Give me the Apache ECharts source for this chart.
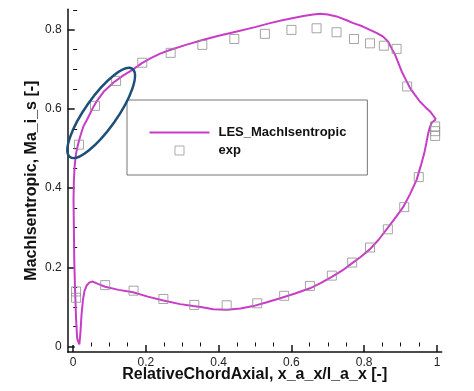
<!DOCTYPE html>
<html><head><meta charset="utf-8">
<script src="https://cdn.jsdelivr.net/npm/echarts@6/dist/echarts.min.js"></script>
<style>html,body{margin:0;padding:0;background:#fff}#c{width:474px;height:391px}</style>
</head><body><div id="c"></div>
<script>
// LES isentropic Mach number (closed loop: TE -> pressure side -> LE -> suction side -> TE)
const lesX = [0.997,0.986,0.980,0.976,0.971,0.965,0.955,0.944,0.926,0.907,0.888,0.871,0.839,0.816,0.790,0.766,0.740,0.711,0.680,0.651,0.610,0.569,0.530,0.495,0.460,0.422,0.385,0.355,0.330,0.294,0.248,0.205,0.165,0.125,0.088,0.068,0.054,0.045,0.037,0.031,0.027,0.023,0.020,0.017,0.014,0.011,0.008,0.005,0.003,0.002,0.001,0.002,0.004,0.008,0.012,0.019,0.028,0.038,0.056,0.065,0.085,0.111,0.138,0.163,0.189,0.212,0.239,0.266,0.310,0.358,0.400,0.450,0.500,0.541,0.578,0.633,0.660,0.679,0.700,0.724,0.750,0.770,0.795,0.816,0.835,0.852,0.866,0.876,0.885,0.894,0.903,0.915,0.926,0.940,0.953,0.967,0.981,0.990,0.997];
const lesY = [0.574,0.566,0.553,0.539,0.515,0.488,0.455,0.421,0.385,0.352,0.328,0.307,0.269,0.246,0.226,0.210,0.192,0.176,0.160,0.147,0.134,0.122,0.111,0.102,0.096,0.093,0.094,0.099,0.102,0.107,0.116,0.126,0.137,0.143,0.151,0.158,0.164,0.162,0.154,0.140,0.118,0.080,0.035,0.005,0.002,0.020,0.070,0.150,0.220,0.300,0.370,0.420,0.455,0.488,0.505,0.530,0.556,0.573,0.606,0.620,0.645,0.667,0.685,0.699,0.716,0.728,0.740,0.749,0.762,0.775,0.785,0.796,0.807,0.817,0.825,0.835,0.839,0.841,0.839,0.834,0.825,0.817,0.809,0.800,0.792,0.783,0.770,0.752,0.737,0.716,0.695,0.673,0.653,0.635,0.619,0.606,0.594,0.583,0.574];
// experimental points
const expX = [0.016,0.060,0.118,0.190,0.268,0.355,0.443,0.527,0.600,0.669,0.724,0.772,0.816,0.854,0.889,0.918,0.995,0.995,0.995,0.950,0.910,0.865,0.816,0.767,0.711,0.651,0.580,0.506,0.422,0.333,0.248,0.166,0.088,0.008,0.008];
const expY = [0.510,0.608,0.671,0.717,0.742,0.762,0.777,0.790,0.800,0.804,0.794,0.777,0.766,0.760,0.752,0.657,0.556,0.544,0.532,0.428,0.352,0.296,0.250,0.212,0.179,0.153,0.128,0.109,0.104,0.105,0.120,0.141,0.155,0.139,0.123];
const xMajorTicks = [0,0.2,0.4,0.6,0.8,1];
const yMajorTicks = [0,0.2,0.4,0.6,0.8];
const xMinorTicks = [0.05,0.1,0.15,0.25,0.3,0.35,0.45,0.5,0.55,0.65,0.7,0.75,0.85,0.9,0.95];
const yMinorTicks = [0.05,0.1,0.15,0.25,0.3,0.35,0.45,0.5,0.55,0.65,0.7,0.75,0.85];

const lesData = lesX.map((x,i)=>[x,lesY[i]]);
const expData = expX.map((x,i)=>[x,expY[i]]);

const FONT = 'Liberation Sans, Arial, sans-serif';
const LINE_COL = '#c83cc8';
const XMIN=-0.015, XMAX=1.013, YMIN=-0.014, YMAX=0.852;
const chart = echarts.init(document.getElementById('c'), null, {renderer:'canvas'});
const axisCol = '#111';
chart.setOption({
  animation:false,
  backgroundColor:'#fff',
  textStyle:{fontFamily:FONT},
  grid:{left:67.7, right:32.3, top:9.3, bottom:39, containLabel:false},
  legend:{
    orient:'vertical', left:127, top:100,
    borderColor:'#777', borderWidth:1, backgroundColor:'#fff',
    padding:[23,21,17,20], itemWidth:60, itemHeight:14, itemGap:1,
    symbolKeepAspect:true,
    textStyle:{fontSize:13, fontWeight:'bold', color:'#111', fontFamily:FONT, padding:[0,0,0,4]},
    data:[
      {name:'LES_MachIsentropic', icon:'path://M0,0M60,14M0,7H60',
       itemStyle:{color:'none', borderColor:LINE_COL, borderWidth:2}},
      {name:'exp', icon:'path://M0,0M14,14M2.5,2.5H11.5V11.5H2.5Z',
       itemStyle:{color:'#fff', borderColor:'#999', borderWidth:1}}
    ]
  },
  xAxis:[
    {type:'value', min:XMIN, max:XMAX, position:'bottom',
     axisLine:{show:true, onZero:false, lineStyle:{color:axisCol, width:1.5}},
     axisTick:{show:true, inside:true, length:7, customValues:xMajorTicks, lineStyle:{color:axisCol, width:1.5}},
     axisLabel:{customValues:xMajorTicks, fontSize:12, color:'#222', margin:5, fontFamily:FONT},
     splitLine:{show:false},
     name:'RelativeChordAxial, x_a_x/l_a_x [-]', nameLocation:'middle', nameGap:15, nameMoveOverlap:false,
     nameTextStyle:{fontSize:16, fontWeight:'bold', color:'#111', fontFamily:FONT}},
    {type:'value', min:XMIN, max:XMAX, position:'bottom', offset:0,
     axisLine:{show:false}, axisLabel:{show:false}, splitLine:{show:false},
     axisTick:{show:true, inside:true, length:4, customValues:xMinorTicks, lineStyle:{color:axisCol, width:1}}}
  ],
  yAxis:[
    {type:'value', min:YMIN, max:YMAX, position:'left',
     axisLine:{show:true, onZero:false, lineStyle:{color:axisCol, width:1.5}},
     axisTick:{show:true, inside:true, length:7, customValues:yMajorTicks, lineStyle:{color:axisCol, width:1.5}},
     axisLabel:{customValues:yMajorTicks, fontSize:12, color:'#222', margin:6, fontFamily:FONT},
     splitLine:{show:false},
     name:'MachIsentropic, Ma_i_s [-]', nameLocation:'middle', nameGap:28, nameMoveOverlap:false,
     nameTextStyle:{fontSize:16, fontWeight:'bold', color:'#111', fontFamily:FONT}},
    {type:'value', min:YMIN, max:YMAX, position:'left', offset:0,
     axisLine:{show:false}, axisLabel:{show:false}, splitLine:{show:false},
     axisTick:{show:true, inside:true, length:4, customValues:yMinorTicks, lineStyle:{color:axisCol, width:1}}}
  ],
  series:[
    {name:'LES_MachIsentropic', type:'line', xAxisIndex:0, yAxisIndex:0, data:lesData,
     symbol:'none', smooth:false, lineStyle:{color:LINE_COL, width:2}, itemStyle:{color:LINE_COL}, z:3},
    {name:'exp', type:'scatter', xAxisIndex:0, yAxisIndex:0, data:expData,
     symbol:'rect', symbolSize:9,
     itemStyle:{color:'rgba(255,255,255,0)', borderColor:'#8f8f8f', borderWidth:1}, z:4}
  ]
});
// annotation ellipse around the leading-edge region
const c = chart.convertToPixel({xAxisIndex:0, yAxisIndex:0}, [0.077, 0.590]);
chart.setOption({graphic:[{type:'ellipse', x:c[0], y:c[1], rotation:0.956,
  shape:{cx:0, cy:0, rx:54, ry:16}, style:{fill:'none', stroke:'#1d4f78', lineWidth:2.5}, z:100}]});
</script></body></html>
